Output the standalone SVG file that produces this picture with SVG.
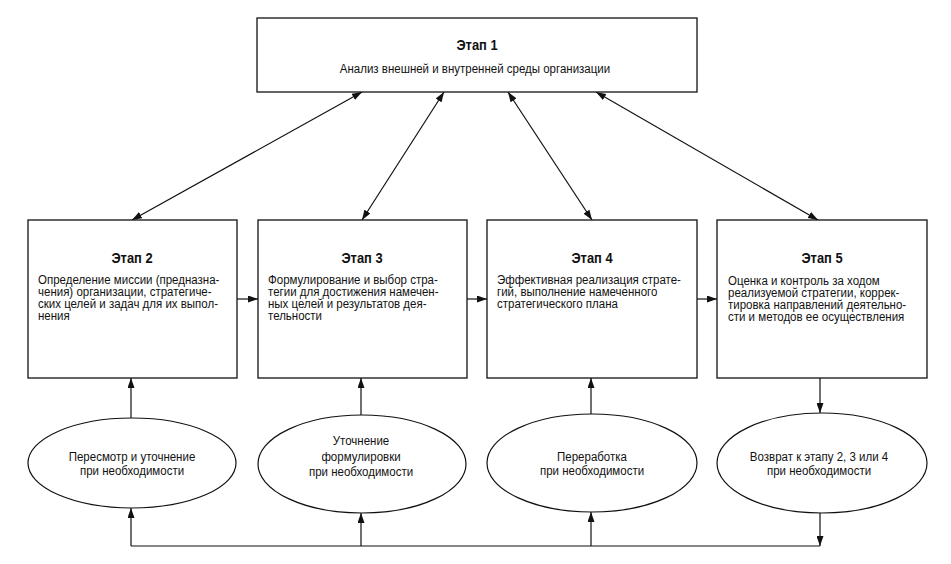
<svg xmlns="http://www.w3.org/2000/svg" width="951" height="564" viewBox="0 0 951 564">
<defs>
<style>
.box{fill:#fff;stroke:#111;stroke-width:1.3}
.ell{fill:#fff;stroke:#111;stroke-width:1.2}
.t{font-family:"Liberation Sans",Arial,sans-serif;font-size:12.5px;fill:#111}
.h{font-family:"Liberation Sans",Arial,sans-serif;font-size:14px;font-weight:bold;fill:#111}
.c{text-anchor:middle}
.ln{fill:none;stroke:#111;stroke-width:1.2}
</style>
<marker id="ah" viewBox="0 0 10 7" refX="10" refY="3.5" markerWidth="10" markerHeight="7" markerUnits="userSpaceOnUse" orient="auto-start-reverse">
<path d="M0,0 L10,3.5 L0,7 z" fill="#111"/>
</marker>
</defs>
<rect width="951" height="564" fill="#fff"/>

<g id="connectors">
<line class="ln" x1="362" y1="92" x2="132" y2="220" marker-start="url(#ah)" marker-end="url(#ah)"/>
<line class="ln" x1="444" y1="92" x2="362" y2="220" marker-start="url(#ah)" marker-end="url(#ah)"/>
<line class="ln" x1="508" y1="92" x2="592" y2="220" marker-start="url(#ah)" marker-end="url(#ah)"/>
<line class="ln" x1="596" y1="92" x2="818" y2="220" marker-start="url(#ah)" marker-end="url(#ah)"/>
<line class="ln" x1="237" y1="299" x2="258" y2="299" marker-end="url(#ah)"/>
<line class="ln" x1="467" y1="299" x2="487" y2="299" marker-end="url(#ah)"/>
<line class="ln" x1="697" y1="299" x2="717" y2="299" marker-end="url(#ah)"/>
<line class="ln" x1="131" y1="418" x2="131" y2="378" marker-end="url(#ah)"/>
<line class="ln" x1="361" y1="415" x2="361" y2="378" marker-end="url(#ah)"/>
<line class="ln" x1="591" y1="414" x2="591" y2="378" marker-end="url(#ah)"/>
<line class="ln" x1="820" y1="378" x2="820" y2="413" marker-end="url(#ah)"/>
<line class="ln" x1="131" y1="546" x2="131" y2="508" marker-end="url(#ah)"/>
<line class="ln" x1="361" y1="546" x2="361" y2="513" marker-end="url(#ah)"/>
<line class="ln" x1="591" y1="546" x2="591" y2="512" marker-end="url(#ah)"/>
<line class="ln" x1="820" y1="513" x2="820" y2="546" marker-end="url(#ah)"/>
<line class="ln" x1="131" y1="546" x2="820" y2="546"/>
</g>

<g id="stage1">
<rect class="box" x="257" y="18" width="440" height="74"/>
<g transform="translate(477 0) scale(0.92 1)"><text class="h c" x="0" y="50">Этап 1</text></g>
<g transform="translate(475 0) scale(0.92 1)"><text class="t c" x="0" y="73">Анализ внешней и внутренней среды организации</text></g>
</g>

<g id="stage2">
<rect class="box" x="28" y="220" width="209" height="158"/>
<g transform="translate(132 0) scale(0.92 1)"><text class="h c" x="0" y="263">Этап 2</text></g>
<g transform="translate(38 0) scale(0.92 1)">
<text class="t" x="0" y="284">Определение миссии (предназна-</text>
<text class="t" x="0" y="296">чения) организации, стратегиче-</text>
<text class="t" x="0" y="308">ских целей и задач для их выпол-</text>
<text class="t" x="0" y="320">нения</text>
</g>
</g>

<g id="stage3">
<rect class="box" x="258" y="220" width="209" height="158"/>
<g transform="translate(362 0) scale(0.92 1)"><text class="h c" x="0" y="263">Этап 3</text></g>
<g transform="translate(268 0) scale(0.92 1)">
<text class="t" x="0" y="284">Формулирование и выбор стра-</text>
<text class="t" x="0" y="296">тегии для достижения намечен-</text>
<text class="t" x="0" y="308">ных целей и результатов дея-</text>
<text class="t" x="0" y="320">тельности</text>
</g>
</g>

<g id="stage4">
<rect class="box" x="487" y="220" width="210" height="158"/>
<g transform="translate(592 0) scale(0.92 1)"><text class="h c" x="0" y="263">Этап 4</text></g>
<g transform="translate(497 0) scale(0.92 1)">
<text class="t" x="0" y="284">Эффективная реализация страте-</text>
<text class="t" x="0" y="296">гий, выполнение намеченного</text>
<text class="t" x="0" y="308">стратегического плана</text>
</g>
</g>

<g id="stage5">
<rect class="box" x="717" y="220" width="210" height="158"/>
<g transform="translate(822 0) scale(0.92 1)"><text class="h c" x="0" y="263">Этап 5</text></g>
<g transform="translate(728 0) scale(0.92 1)">
<text class="t" x="0" y="285">Оценка и контроль за ходом</text>
<text class="t" x="0" y="297">реализуемой стратегии, коррек-</text>
<text class="t" x="0" y="309">тировка направлений деятельно-</text>
<text class="t" x="0" y="321">сти и методов ее осуществления</text>
</g>
</g>

<g id="review2">
<ellipse class="ell" cx="132" cy="463" rx="104" ry="45"/>
<g transform="translate(132 0) scale(0.92 1)">
<text class="t c" x="0" y="461">Пересмотр и уточнение</text>
<text class="t c" x="0" y="475">при необходимости</text>
</g>
</g>

<g id="review3">
<ellipse class="ell" cx="362" cy="464" rx="104" ry="49"/>
<g transform="translate(361 0) scale(0.92 1)">
<text class="t c" x="0" y="445">Уточнение</text>
<text class="t c" x="0" y="461">формулировки</text>
<text class="t c" x="0" y="476">при необходимости</text>
</g>
</g>

<g id="review4">
<ellipse class="ell" cx="592" cy="463" rx="105" ry="49"/>
<g transform="translate(592 0) scale(0.92 1)">
<text class="t c" x="0" y="461">Переработка</text>
<text class="t c" x="0" y="475">при необходимости</text>
</g>
</g>

<g id="review5">
<ellipse class="ell" cx="822" cy="463" rx="105" ry="50"/>
<g transform="translate(819 0) scale(0.92 1)">
<text class="t c" x="0" y="461">Возврат к этапу 2, 3 или 4</text>
<text class="t c" x="0" y="475">при необходимости</text>
</g>
</g>
</svg>
